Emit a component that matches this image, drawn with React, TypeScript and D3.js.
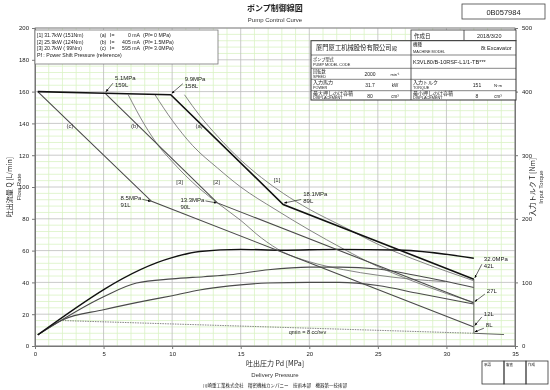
import { useEffect, useRef } from 'react';
import * as d3 from 'd3';

// axis ticks
const pressureTicks = [0, 5, 10, 15, 20, 25, 30, 35];
const flowTicks = [0, 20, 40, 60, 80, 100, 120, 140, 160, 180, 200];
const torqueTicks = [0, 100, 200, 300, 400, 500];

// flow control lines [MPa, L/min]
const lineA: [number, number][] = [[0.2, 160], [5.1, 159], [9.9, 158], [18.1, 89], [32, 42]];
const lineB: [number, number][] = [[5.1, 159], [13.3, 90], [32, 27]];
const lineC: [number, number][] = [[0.2, 160], [8.5, 91], [32, 12]];
const reliefLine: [number, number][] = [[32, 42], [32, 8]];

// constant power curves [MPa, L/min]
const power1: [number, number][] = [[10.9, 158], [12, 145], [13.3, 132], [15, 117], [16.5, 106], [18.1, 96], [20, 86], [22.5, 75], [25, 64], [27.5, 55], [30, 47], [32, 41]];
const power2: [number, number][] = [[8.75, 158], [10, 142], [11.5, 126], [13.3, 112], [15, 100], [17.5, 86], [20, 73], [22.5, 61], [25, 50], [27.5, 41], [30, 33], [32, 27.5]];
const power3: [number, number][] = [[6.8, 158], [8, 139], [9, 126], [10, 116], [11, 107], [12, 99], [13.3, 90], [15, 79], [16.5, 68], [18.1, 59], [20, 53], [22.5, 48], [25, 44.5], [27.5, 42], [29.9, 40.5]];

// input torque curves [MPa, Nm]
const torqueA: [number, number][] = [[0.2, 17.5], [10, 139], [12, 148.5], [15, 152], [18, 150.5], [22, 152], [26.5, 151], [32, 138]];
const torqueB: [number, number][] = [[0.2, 17.5], [5, 77.5], [7.4, 99], [10, 105.5], [12.3, 109], [14.2, 112], [17, 120], [20, 124], [22.2, 124], [25, 121], [28, 110], [32, 92]];
const torqueC: [number, number][] = [[0.2, 17.5], [2, 41], [5, 57], [8.4, 72.5], [10, 79], [12, 88], [14.2, 94.5], [17, 99], [20, 100], [22.2, 100], [25, 95], [28, 82.5], [32, 66]];

// minimum displacement flow [MPa, L/min]
const qminLine: [number, number][] = [[2, 16], [32, 8]];
const qminTail: [number, number][] = [[32, 8], [34.2, 7.2]];

// annotated points [MPa, L/min] and their labels
const pointLabels = [
  { p: 5.1, q: 159, text: ['5.1MPa', '159L'] },
  { p: 9.9, q: 158, text: ['9.9MPa', '158L'] },
  { p: 18.1, q: 89, text: ['18.1MPa', '89L'] },
  { p: 8.5, q: 91, text: ['8.5MPa', '91L'] },
  { p: 13.3, q: 90, text: ['13.3MPa', '90L'] },
  { p: 32, q: 42, text: ['32.0MPa', '42L'] },
  { p: 32, q: 27, text: ['27L'] },
  { p: 32, q: 12, text: ['12L'] },
  { p: 32, q: 8, text: ['8L'] },
];

const curveLabels = [
  { p: 2.3, q: 137, text: '(c)' },
  { p: 7, q: 137, text: '(b)' },
  { p: 11.7, q: 137, text: '(a)' },
  { p: 10.3, q: 102, text: '[3]' },
  { p: 13, q: 102, text: '[2]' },
  { p: 17.4, q: 103, text: '[1]' },
];

const legendRows = [
  ['[1] 31.7kW  (151Nm)', '(a)', 'I=', '0 mA', '(Pf= 0  MPa)'],
  ['[2] 25.9kW  (124Nm)', '(b)', 'I=', '405 mA', '(Pf= 1.5MPa)'],
  ['[3] 20.7kW  ( 99Nm)', '(c)', 'I=', '595 mA', '(Pf= 3.0MPa)'],
];

const FONT = '"Liberation Sans", Arial, sans-serif';
const JP = '"Noto Sans CJK JP", "Noto Sans CJK SC", sans-serif';

export default function App() {
  const svgRef = useRef<SVGSVGElement>(null);

  useEffect(() => {
    if (!svgRef.current) return;
    const svg = d3.select(svgRef.current);
    svg.selectAll('*').remove();

    const width = 550;
    const height = 390;
    const margin = { left: 35, right: 35, top: 28, bottom: 44 };

    const x = d3.scaleLinear().domain([0, 35]).range([margin.left, width - margin.right]);
    const y = d3.scaleLinear().domain([0, 200]).range([height - margin.bottom, margin.top]);
    const yT = d3.scaleLinear().domain([0, 500]).range([height - margin.bottom, margin.top]);

    svg.attr('width', width).attr('height', height)
      .style('font-family', FONT)
      .attr('fill', '#222');
    svg.append('rect').attr('width', width).attr('height', height).attr('fill', '#fff');

    const defs = svg.append('defs');
    defs.append('marker')
      .attr('id', 'arr')
      .attr('viewBox', '0 0 10 10')
      .attr('refX', 9).attr('refY', 5)
      .attr('markerWidth', 5).attr('markerHeight', 5)
      .attr('orient', 'auto')
      .append('path').attr('d', 'M0,1 L10,5 L0,9 Z').attr('fill', '#000');

    // minor grid
    const g = svg.append('g');
    g.append('g').selectAll('line.mv')
      .data(d3.range(0, 35.01, 1).filter(v => v % 5 !== 0))
      .enter().append('line')
      .attr('x1', d => x(d)).attr('x2', d => x(d))
      .attr('y1', y(0)).attr('y2', y(200))
      .attr('stroke', '#d9f2c4').attr('stroke-width', 0.8);
    g.append('g').selectAll('line.mh')
      .data(d3.range(0, 200.01, 4).filter(v => v % 20 !== 0))
      .enter().append('line')
      .attr('x1', x(0)).attr('x2', x(35))
      .attr('y1', d => y(d)).attr('y2', d => y(d))
      .attr('stroke', '#d9f2c4').attr('stroke-width', 0.8);

    // major grid
    g.append('g').selectAll('line')
      .data(pressureTicks)
      .enter().append('line')
      .attr('x1', d => x(d)).attr('x2', d => x(d))
      .attr('y1', y(0)).attr('y2', y(200))
      .attr('stroke', '#bdbdbd').attr('stroke-width', 0.8);
    g.append('g').selectAll('line')
      .data(flowTicks)
      .enter().append('line')
      .attr('x1', x(0)).attr('x2', x(35))
      .attr('y1', d => y(d)).attr('y2', d => y(d))
      .attr('stroke', '#bdbdbd').attr('stroke-width', 0.8);

    // plot frame
    svg.append('rect')
      .attr('x', x(0)).attr('y', y(200))
      .attr('width', x(35) - x(0)).attr('height', y(0) - y(200))
      .attr('fill', 'none').attr('stroke', '#777').attr('stroke-width', 0.8);

    // axes
    const axisStyle = (sel: d3.Selection<SVGGElement, unknown, null, undefined>) => {
      sel.select('.domain').attr('stroke', '#777');
      sel.selectAll('.tick line').attr('stroke', '#777');
      sel.selectAll('.tick text').attr('font-size', 6).attr('font-family', FONT).attr('fill', '#222');
    };
    svg.append('g')
      .attr('transform', `translate(0,${y(0)})`)
      .call(d3.axisBottom(x).tickValues(pressureTicks).tickSize(3).tickPadding(3))
      .call(axisStyle);
    svg.append('g')
      .attr('transform', `translate(${x(0)},0)`)
      .call(d3.axisLeft(y).tickValues(flowTicks).tickSize(3).tickPadding(3))
      .call(axisStyle);
    svg.append('g')
      .attr('transform', `translate(${x(35)},0)`)
      .call(d3.axisRight(yT).tickValues(torqueTicks).tickSize(3).tickPadding(4))
      .call(axisStyle);

    // curves
    const flowLine = d3.line<[number, number]>().x(d => x(d[0])).y(d => y(d[1]));
    const flowCurve = d3.line<[number, number]>().x(d => x(d[0])).y(d => y(d[1])).curve(d3.curveMonotoneX);
    const torqueCurve = d3.line<[number, number]>().x(d => x(d[0])).y(d => yT(d[1])).curve(d3.curveMonotoneX);

    const plot = svg.append('g').attr('fill', 'none');
    [power1, power2, power3].forEach(d => {
      plot.append('path').attr('d', flowCurve(d)).attr('stroke', '#777').attr('stroke-width', 0.9);
    });
    [torqueC, torqueB].forEach(d => {
      plot.append('path').attr('d', torqueCurve(d)).attr('stroke', '#4a4a4a').attr('stroke-width', 1.1);
    });
    plot.append('path').attr('d', torqueCurve(torqueA)).attr('stroke', '#111').attr('stroke-width', 1.4);

    plot.append('path').attr('d', flowLine(qminLine))
      .attr('stroke', '#666').attr('stroke-width', 0.8).attr('stroke-dasharray', '1.5,1');
    plot.append('path').attr('d', flowLine(qminTail)).attr('stroke', '#555').attr('stroke-width', 0.9);

    [lineC, lineB].forEach(d => {
      plot.append('path').attr('d', flowLine(d)).attr('stroke', '#4a4a4a').attr('stroke-width', 1.1);
    });
    plot.append('path').attr('d', flowLine(reliefLine)).attr('stroke', '#666').attr('stroke-width', 1);
    plot.append('path').attr('d', flowLine(lineA)).attr('stroke', '#111').attr('stroke-width', 1.6);

    // curve labels
    svg.append('g').selectAll('text')
      .data(curveLabels)
      .enter().append('text')
      .attr('x', d => x(d.p)).attr('y', d => y(d.q))
      .attr('font-size', 6).attr('fill', '#333')
      .text(d => d.text);

    // point annotations with arrows
    const offsets: Record<string, [number, number]> = {
      '5.1MPa': [10, -13], '9.9MPa': [14, -14], '18.1MPa': [20, -8], '8.5MPa': [-31, -1],
      '13.3MPa': [-37, -1], '32.0MPa': [10, -18], '27L': [13, -10], '12L': [10, -11], '8L': [12, -6],
    };
    const ann = svg.append('g');
    pointLabels.forEach(d => {
      const px = x(d.p), py = y(d.q);
      const [dx, dy] = offsets[d.text[0]];
      const tx = px + dx, ty = py + dy;
      const t = ann.append('text').attr('x', tx).attr('y', ty).attr('font-size', 6).attr('fill', '#222');
      d.text.forEach((s, i) => t.append('tspan').attr('x', tx).attr('dy', i === 0 ? 0 : 7).text(s));
      let sx: number, sy: number;
      if (dx < 0) { sx = tx + (d.text[0].length * 3.3) + 2; sy = ty - 1; }
      else { sx = tx - 2; sy = ty + (d.text.length > 1 ? 3 : 1); }
      ann.append('line')
        .attr('x1', sx).attr('y1', sy)
        .attr('x2', px + (dx < 0 ? -1 : 1)).attr('y2', py + (dx < 0 ? 0 : -1.5))
        .attr('stroke', '#000').attr('stroke-width', 0.6)
        .attr('marker-end', 'url(#arr)');
    });

    svg.append('text').attr('x', x(18.5)).attr('y', y(7.5))
      .attr('font-size', 5.5).attr('fill', '#222').text('qmin = 8 cc/rev');

    // legend box
    const lg = svg.append('g').attr('fill', '#222');
    lg.append('rect').attr('x', 35).attr('y', 30).attr('width', 183).attr('height', 34)
      .attr('fill', '#fff').attr('stroke', '#777').attr('stroke-width', 0.8);
    legendRows.forEach((r, i) => {
      const ty = 37 + i * 6.5;
      lg.append('text').attr('x', 37).attr('y', ty).attr('font-size', 5.2).text(r[0]);
      lg.append('text').attr('x', 100).attr('y', ty).attr('font-size', 5.2).text(r[1]);
      lg.append('text').attr('x', 110).attr('y', ty).attr('font-size', 5.2).text(r[2]);
      lg.append('text').attr('x', 140).attr('y', ty).attr('font-size', 5.2).attr('text-anchor', 'end').text(r[3]);
      lg.append('text').attr('x', 143).attr('y', ty).attr('font-size', 5.2).text(r[4]);
    });
    lg.append('text').attr('x', 37).attr('y', 56.5).attr('font-size', 5.2).text('Pf : Power Shift Pressure (reference)');

    // info table
    const tb = svg.append('g').attr('fill', '#222');
    const rows = [30, 40.7, 55, 68.3, 79.3, 90.7, 100];
    const xL = 311, xM = 411, xR = 516;
    tb.append('rect').attr('x', xM).attr('y', rows[0]).attr('width', xR - xM).attr('height', rows[1] - rows[0])
      .attr('fill', '#fff').attr('stroke', '#333').attr('stroke-width', 0.8);
    tb.append('line').attr('x1', 464).attr('x2', 464).attr('y1', rows[0]).attr('y2', rows[1]).attr('stroke', '#333').attr('stroke-width', 0.8);
    tb.append('rect').attr('x', xL).attr('y', rows[1]).attr('width', xR - xL).attr('height', rows[6] - rows[1])
      .attr('fill', '#fff').attr('stroke', '#333').attr('stroke-width', 1);
    rows.slice(2, 6).forEach(r => {
      tb.append('line').attr('x1', xL).attr('x2', xR).attr('y1', r).attr('y2', r).attr('stroke', '#333').attr('stroke-width', 0.6);
    });
    tb.append('line').attr('x1', xM).attr('x2', xM).attr('y1', rows[1]).attr('y2', rows[6]).attr('stroke', '#333').attr('stroke-width', 0.8);

    const txt = (tx: number, ty: number, s: string, size: number, anchor = 'start', jp = false) =>
      tb.append('text').attr('x', tx).attr('y', ty).attr('font-size', size).attr('text-anchor', anchor)
        .attr('fill', '#222').style('font-family', jp ? JP : FONT).text(s);

    txt(414, 37.5, '作成日', 5.5, 'start', true);
    txt(477, 37.5, '2018/3/20', 5.5);
    txt(316, 50, '厦門厦工机械股份有限公司', 6.3, 'start', true);
    txt(392, 50, '殿', 5, 'start', true);
    txt(413, 46, '機種', 4.5, 'start', true);
    txt(413, 52.5, 'MACHINE MODEL', 3.8);
    txt(481, 50, '8t Excavator', 5.5);
    txt(313, 60.5, 'ポンプ型式', 4.2, 'start', true);
    txt(313, 65.5, 'PUMP MODEL CODE', 3.8);
    txt(413, 64, 'K3VL80/B-10RSF-L1/1-TB***', 5.6);
    txt(313, 73, '回転数', 4.2, 'start', true);
    txt(313, 77.8, 'SPEED', 3.8);
    txt(370, 75.5, '2000', 5, 'middle');
    txt(395, 75.5, 'min⁻¹', 4, 'middle');
    txt(313, 84, '入力馬力', 5, 'start', true);
    txt(313, 89, 'POWER', 3.8);
    txt(370, 87, '31.7', 5, 'middle');
    txt(395, 87, 'kW', 4.5, 'middle');
    txt(413, 84, '入力トルク', 5, 'start', true);
    txt(413, 89, 'TORQUE', 3.8);
    txt(477, 87, '151', 5, 'middle');
    txt(498, 87, 'N·m', 4.3, 'middle');
    txt(313, 95, '最大押しのけ容積', 5, 'start', true);
    txt(313, 99, 'DISPLACEMENT', 3.8);
    txt(370, 97.5, '80', 5, 'middle');
    txt(395, 97.5, 'cm³', 4.5, 'middle');
    txt(413, 95, '最小押しのけ容積', 5, 'start', true);
    txt(413, 99, 'DISPLACEMENT', 3.8);
    txt(477, 97.5, '8', 5, 'middle');
    txt(498, 97.5, 'cm³', 4.5, 'middle');

    // titles
    const tg = svg.append('g').attr('fill', '#222');
    const jpText = (s: string, size: number) =>
      tg.append('text').attr('text-anchor', 'middle').attr('font-size', size)
        .attr('fill', '#222').style('font-family', JP).text(s);

    jpText('ポンプ制御線図', 8).attr('x', 275).attr('y', 11).attr('font-weight', 'bold');
    tg.append('text').attr('x', 275).attr('y', 22).attr('text-anchor', 'middle')
      .attr('font-size', 6).attr('fill', '#333').text('Pump Control Curve');
    tg.append('rect').attr('x', 462).attr('y', 4).attr('width', 83).attr('height', 15)
      .attr('fill', '#fff').attr('stroke', '#444').attr('stroke-width', 0.8);
    tg.append('text').attr('x', 503.5).attr('y', 14.5).attr('text-anchor', 'middle')
      .attr('font-size', 7.5).attr('fill', '#222').text('0B057984');

    // axis titles
    jpText('吐出流量 Q [L/min]', 7).attr('transform', `translate(12,${y(100)}) rotate(-90)`);
    tg.append('text').attr('transform', `translate(21,${y(100)}) rotate(-90)`)
      .attr('text-anchor', 'middle').attr('font-size', 6).attr('fill', '#333').text('Flow Rate');
    jpText('入力トルク T [Nm]', 7).attr('transform', `translate(535,${y(100)}) rotate(-90)`);
    tg.append('text').attr('transform', `translate(543,${y(100)}) rotate(-90)`)
      .attr('text-anchor', 'middle').attr('font-size', 6).attr('fill', '#333').text('Input Torque');

    jpText('吐出圧力 Pd [MPa]', 7).attr('x', 275).attr('y', 366);
    tg.append('text').attr('x', 275).attr('y', 377).attr('text-anchor', 'middle')
      .attr('font-size', 6).attr('fill', '#333').text('Delivery Pressure');
    jpText('川崎重工業株式会社　精密機械カンパニー　技術本部　機器第一技術部', 4.5).attr('x', 275).attr('y', 387);

    // approval stamps
    const stamps = ['承認', '審査', '作成'];
    stamps.forEach((s, i) => {
      const sx = 482 + i * 22;
      tg.append('rect').attr('x', sx).attr('y', 361).attr('width', 22).attr('height', 23)
        .attr('fill', 'none').attr('stroke', '#333').attr('stroke-width', 0.8);
      tg.append('text').attr('x', sx + 2).attr('y', 366).attr('font-size', 3.5)
        .attr('fill', '#222').style('font-family', JP).text(s);
    });
  }, []);

  return (
    <svg ref={svgRef} width={550} height={390}
      style={{ position: 'absolute', left: 0, top: 0, opacity: 0.999, willChange: 'transform' }} />
  );
}
